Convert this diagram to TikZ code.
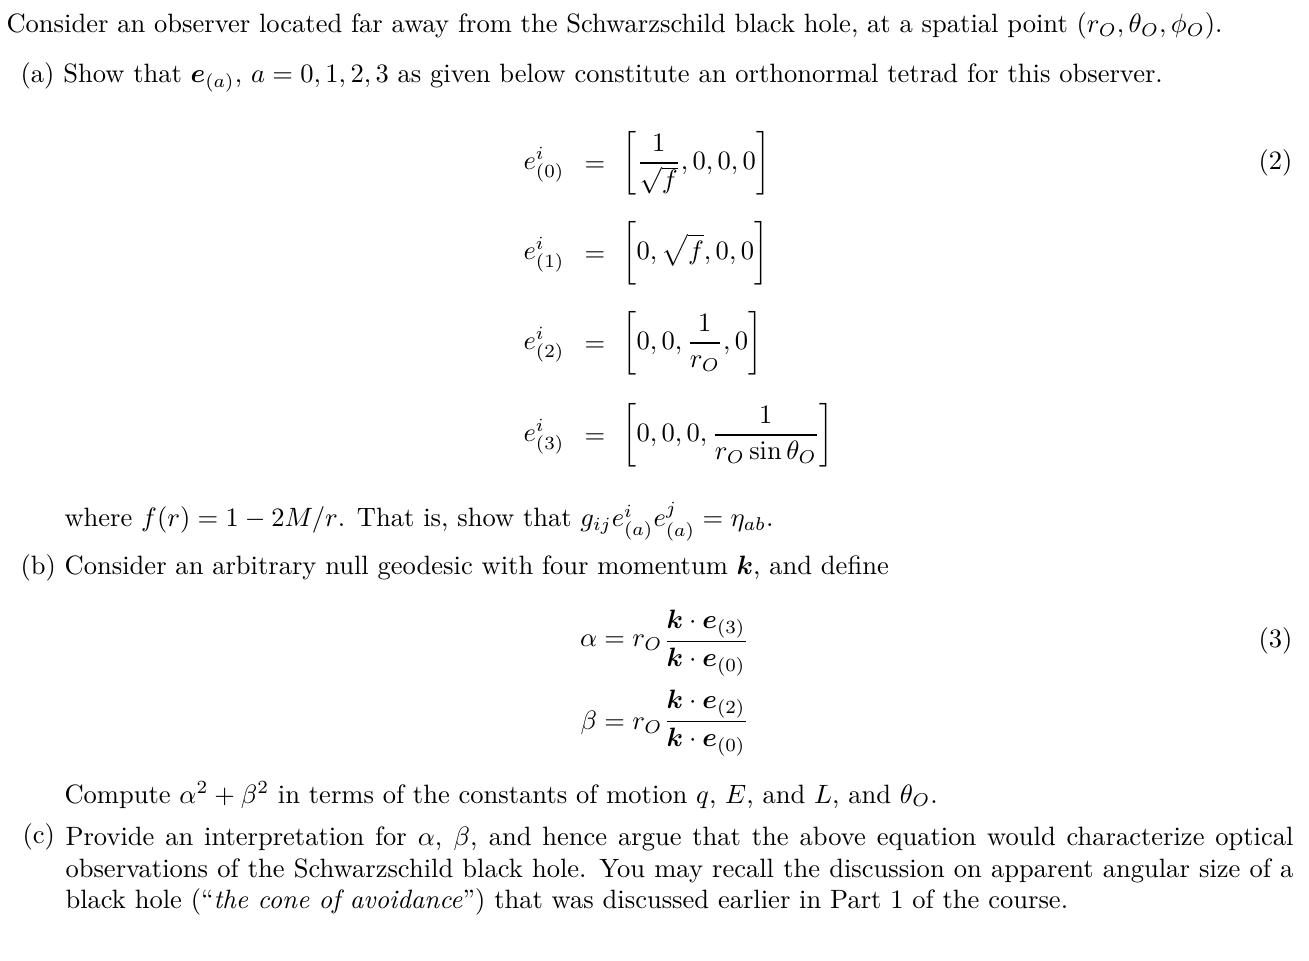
\documentclass[tikz,border=0pt]{standalone}
\usepackage{amsmath,bm}
\begin{document}
\begin{tikzpicture}[x=0.377pt,y=-0.377pt,
  txt/.style={anchor=base west,inner sep=0pt},
  lhs/.style={anchor=east,inner sep=0pt},
  rhs/.style={anchor=west,inner sep=0pt},
  num/.style={anchor=east,inner sep=0pt}]
\useasboundingbox (0,0) rectangle (1309,961);
\node[txt] (l1) at (6,33) {Consider an observer located far away from the Schwarzschild black hole, at a spatial point $(r_O,\theta_O,\phi_O)$.};
\node[txt] (la) at (20,83) {(a) Show that $\bm{e}_{(a)}$, $a=0,1,2,3$ as given below constitute an orthonormal tetrad for this observer.};
% eq 2
\node[lhs] (e0) at (565,165) {$e^i_{(0)}$};
\node[lhs] (e1) at (565,255) {$e^i_{(1)}$};
\node[lhs] (e2) at (565,345) {$e^i_{(2)}$};
\node[lhs] (e3) at (565,437) {$e^i_{(3)}$};
\foreach \y/\n in {167/q0,257/q1,347/q2,439/q3}{\node[rhs] (\n) at (584,\y) {$=$};}
\node[rhs] (r0) at (622,163) {$\displaystyle\left[\frac{1}{\sqrt{f}},0,0,0\right]$};
\node[rhs] (r1) at (622,253) {$\displaystyle\left[0,\sqrt{f},0,0\vphantom{\frac{1}{1}}\right]$};
\node[rhs] (r2) at (622,343) {$\displaystyle\left[0,0,\frac{1}{r_O},0\right]$};
\node[rhs] (r3) at (622,435) {$\displaystyle\left[0,0,0,\frac{1}{r_O\sin\theta_O}\right]$};
\node[num] (n2) at (1293,163) {(2)};
\node[txt] (w) at (64,527) {where $f(r)=1-2M/r$. That is, show that $g_{ij}e^i_{(a)}e^j_{(a)}=\eta_{ab}$.};
\node[txt] (lb) at (20,575) {(b) Consider an arbitrary null geodesic with four momentum $\bm{k}$, and define};
\node[lhs] (al) at (663,643) {$\alpha=r_O$};
\node[rhs] (ar) at (663,643) {$\displaystyle\frac{\bm{k}\cdot\bm{e}_{(3)}}{\bm{k}\cdot\bm{e}_{(0)}}$};
\node[lhs] (bl) at (663,723) {$\beta=r_O$};
\node[rhs] (br) at (663,723) {$\displaystyle\frac{\bm{k}\cdot\bm{e}_{(2)}}{\bm{k}\cdot\bm{e}_{(0)}}$};
\node[num] (n3) at (1293,641) {(3)};
\node[txt] (cp) at (64,803) {Compute $\alpha^2+\beta^2$ in terms of the constants of motion $q$, $E$, and $L$, and $\theta_O$.};
\node[txt] (lc) at (22,843) {(c)};
\node[anchor=north west,inner sep=0pt,text width=1228*0.377pt,align=justify] (pc) at (65,826)
 {Provide an interpretation for $\alpha$, $\beta$, and hence argue that the above equation would characterize optical observations of the Schwarzschild black hole. You may recall the discussion on apparent angular size of a black hole (``\emph{the cone of avoidance}'') that was discussed earlier in Part 1 of the course.};
\end{tikzpicture}
\end{document}
